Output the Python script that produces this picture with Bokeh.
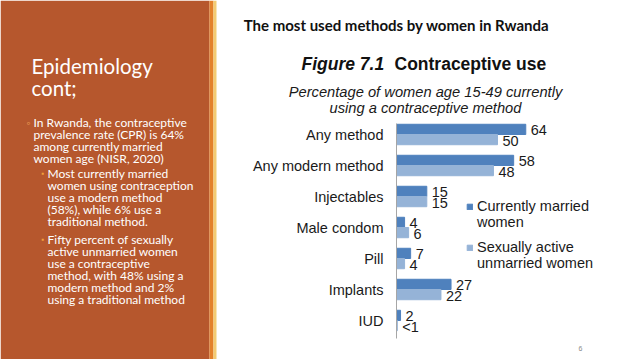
from bokeh.plotting import figure
from bokeh.models import (Range1d, ColumnDataSource, LabelSet, Label, Legend, LegendItem,
                          BoxAnnotation, LinearAxis, FixedTicker)
from bokeh.transform import dodge
from bokeh.core.properties import value
from bokeh.embed import file_html
from bokeh.resources import INLINE

# ---------------- data ----------------
categories = ["Any method", "Any modern method", "Injectables", "Male condom", "Pill", "Implants", "IUD"]
married = [64, 58, 15, 4, 7, 27, 2]
unmarried = [50, 48, 15, 6, 4, 22, 0.4]
married_labels = ["64", "58", "15", "4", "7", "27", "2"]
unmarried_labels = ["50", "48", "15", "6", "4", "22", "<1"]
series_married = ["Currently married", "women"]
series_unmarried = ["Sexually active", "unmarried women"]

header = "The most used methods by women in Rwanda"
fig_num = "Figure 7.1"
fig_title = "Contraceptive use"
subtitle = ["Percentage of women age 15-49 currently", "using a contraceptive method"]

side_title = ["Epidemiology", "cont;"]
side_main = ["In Rwanda, the contraceptive", "prevalence rate (CPR) is 64%",
             "among currently married", "women age (NISR, 2020)"]
side_sub1 = ["Most currently married", "women using contraception", "use a modern method",
             "(58%), while 6% use a", "traditional method."]
side_sub2 = ["Fifty percent of sexually", "active unmarried women", "use a contraceptive",
             "method, with 48% using a", "modern method and 2%", "using a traditional method"]
page_no = "6"

ORANGE = "#B6572D"
C_MAR = "#4F81BD"
C_UNM = "#95B3D7"
TXT = "#1a1a1a"
ARIAL = "Liberation Sans"

# ---------------- geometry helpers (page px -> data units) ----------------
W, H = 638, 359
X0, SX = 396.0, 2.02      # page x of value 0, px per percentage point
Y0, SY = 134.0, 31.0      # page y of first category, px per category


def px(xw):
    return (xw - X0) / SX


def py(yw):
    return (yw - Y0) / SY


idx = list(range(len(categories)))
src = ColumnDataSource(dict(idx=idx, married=married, unmarried=unmarried,
                            mlab=married_labels, ulab=unmarried_labels))

p = figure(width=W, height=H, x_range=Range1d(-X0 / SX, (W - X0) / SX),
           y_range=Range1d((H - Y0) / SY, -Y0 / SY),
           x_axis_type=None, y_axis_type=None, output_backend="svg", toolbar_location=None,
           min_border=0, outline_line_color=None, background_fill_color="white",
           border_fill_color="white")
p.grid.visible = False

# slide side panel
p.add_layout(BoxAnnotation(right=px(209), fill_color=ORANGE, fill_alpha=1, line_alpha=0, level="underlay"))
p.add_layout(BoxAnnotation(left=px(209), right=px(213), fill_color="#E3812B", fill_alpha=1,
                           line_alpha=0, level="underlay"))
p.add_layout(BoxAnnotation(left=px(213), right=px(216), fill_color="#F3CB72", fill_alpha=1,
                           line_alpha=0, level="underlay"))

for i, t in enumerate(side_title):
    p.add_layout(Label(x=px(31), y=py(65 + 22 * i), text=t, text_color="white", text_font="Lato",
                       text_font_size="20.5px", text_baseline="middle"))
p.add_layout(Label(x=px(26), y=py(122), text="◦", text_color="#F2A65A", text_font_size="12px",
                   text_baseline="middle"))
for i, t in enumerate(side_main):
    p.add_layout(Label(x=px(33), y=py(122 + 12 * i), text=t, text_color="white", text_font="Lato",
                       text_font_size="12px", text_baseline="middle"))
for block, y0 in ((side_sub1, 173), (side_sub2, 239)):
    p.add_layout(Label(x=px(41), y=py(y0), text="▪", text_color="#F2A03C", text_font_size="8px",
                       text_baseline="middle"))
    for i, t in enumerate(block):
        p.add_layout(Label(x=px(47), y=py(y0 + 12 * i), text=t, text_color="white", text_font="Lato",
                           text_font_size="12px", text_baseline="middle"))

# bars
r1 = p.hbar(y=dodge("idx", -0.165), right="married", left=0, height=0.33, source=src, color=C_MAR)
r2 = p.hbar(y=dodge("idx", 0.165), right="unmarried", left=0, height=0.33, source=src, color=C_UNM)
blank = p.hbar(y=[], right=[], height=0.33, fill_alpha=0, line_alpha=0)

p.add_layout(LabelSet(x="married", y=dodge("idx", -0.165), text="mlab", source=src,
                      x_offset=5, y_offset=-1, text_baseline="middle", text_font=value(ARIAL),
                      text_font_size="14.5px", text_color=TXT))
p.add_layout(LabelSet(x="unmarried", y=dodge("idx", 0.165), text="ulab", source=src,
                      x_offset=5, y_offset=-1, text_baseline="middle", text_font=value(ARIAL),
                      text_font_size="14.5px", text_color=TXT))

# category axis fixed at value 0
yaxis = LinearAxis(fixed_location=0, ticker=FixedTicker(ticks=idx),
                   major_label_overrides={i: c for i, c in zip(idx, categories)},
                   bounds=(py(123), py(338)))
yaxis.major_tick_line_color = None
yaxis.minor_tick_line_color = None
yaxis.major_tick_in = 0
yaxis.major_tick_out = 0
yaxis.axis_line_color = "#A6A6A6"
yaxis.major_label_text_font = ARIAL
yaxis.major_label_text_font_size = "14.5px"
yaxis.major_label_text_color = TXT
yaxis.major_label_standoff = 13
p.add_layout(yaxis, "left")

# legends
for labels, rend, top in ((series_married, r1, 205), (series_unmarried, r2, 246)):
    lg = Legend(items=[LegendItem(label=labels[0], renderers=[rend]),
                       LegendItem(label=labels[1], renderers=[blank])],
                location=(466, H - top - 25), glyph_width=7, glyph_height=7,
                label_standoff=4, spacing=0, padding=0, margin=0, label_height=16,
                border_line_color=None, background_fill_alpha=0,
                label_text_font=ARIAL, label_text_font_size="14.5px", label_text_color=TXT)
    p.add_layout(lg)

# headings
p.add_layout(Label(x=px(396), y=py(24), text=header, text_align="center", text_baseline="middle",
                   text_font="Lato", text_font_style="bold", text_font_size="15px", text_color="#111111"))
p.add_layout(Label(x=px(301), y=py(63), text=fig_num, text_baseline="middle", text_font=ARIAL,
                   text_font_style="bold italic", text_font_size="17.5px", text_color="#111111"))
p.add_layout(Label(x=px(394), y=py(63), text=fig_title, text_baseline="middle", text_font=ARIAL,
                   text_font_style="bold", text_font_size="17.5px", text_color="#111111"))
for i, t in enumerate(subtitle):
    p.add_layout(Label(x=px(425), y=py(91 + 16.5 * i), text=t, text_align="center",
                       text_baseline="middle", text_font=ARIAL, text_font_style="italic",
                       text_font_size="14.7px", text_color=TXT))
p.add_layout(Label(x=px(580), y=py(348), text=page_no, text_align="center", text_baseline="middle",
                   text_font=ARIAL, text_font_size="7px", text_color="#8a8a8a"))

open("out.html", "w").write(file_html(p, INLINE))
